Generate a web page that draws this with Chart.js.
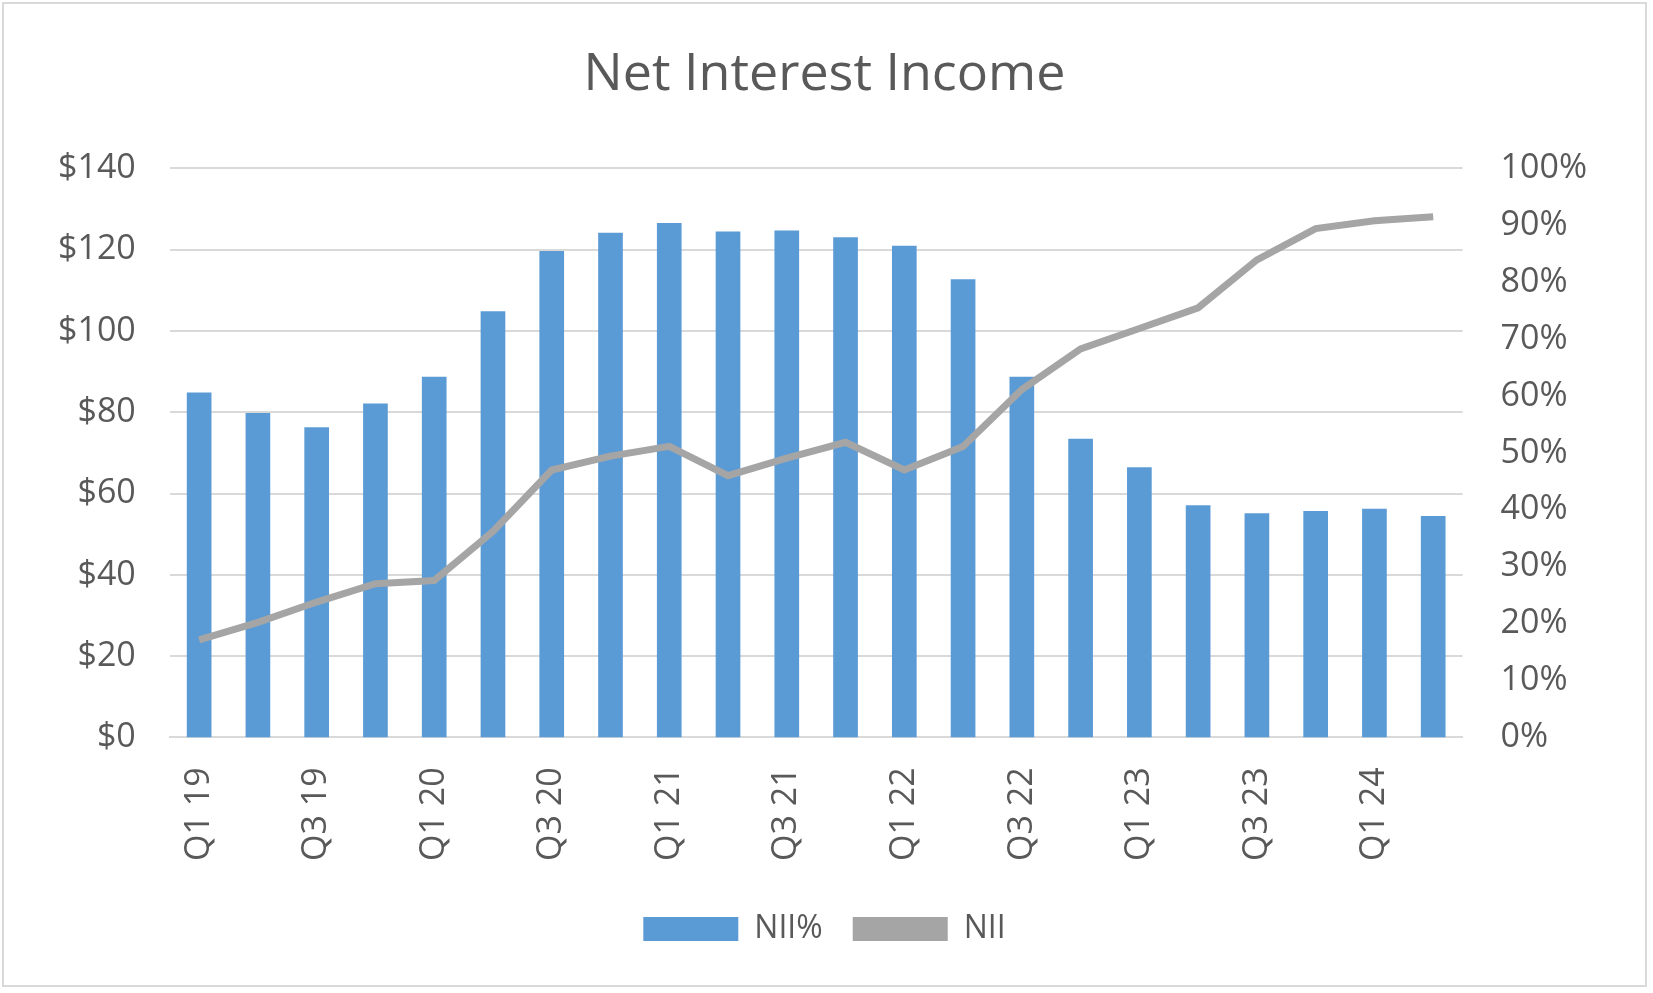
<!DOCTYPE html>
<html><head><meta charset="utf-8">
<script src="https://cdn.jsdelivr.net/npm/chart.js@4"></script>
<style>
html,body{margin:0;padding:0;background:#fff;}
#wrap{position:absolute;left:2px;top:2px;width:1645px;height:985px;border:2px solid #d9d9d9;box-sizing:border-box;}
</style></head><body>
<div id="wrap"><canvas id="c"></canvas></div>
<script>
const categories = ["Q1 19","Q2 19","Q3 19","Q4 19","Q1 20","Q2 20","Q3 20","Q4 20","Q1 21","Q2 21","Q3 21","Q4 21","Q1 22","Q2 22","Q3 22","Q4 22","Q1 23","Q2 23","Q3 23","Q4 23","Q1 24","Q2 24"];
const niiPct = [60.6,57.0,54.5,58.7,63.4,74.9,85.5,88.7,90.4,88.9,89.1,87.9,86.4,80.5,63.4,52.5,47.5,40.8,39.4,39.8,40.2,38.9];
const nii = [24.0,28.3,33.3,37.8,38.6,50.7,65.8,69.2,71.6,64.4,68.7,72.6,65.8,71.6,85.6,95.6,100.6,105.7,117.5,125.2,127.1,128.1];
const leftTicks = [0,20,40,60,80,100,120,140];
const rightTicks = [0,10,20,30,40,50,60,70,80,90,100];
const font = "Open Sans";
new Chart(document.getElementById('c'), {
  data: {
    labels: categories,
    datasets: [
      {type:'line', label:'NII', data:nii, yAxisID:'y', borderColor:'#a5a5a5', backgroundColor:'#a5a5a5', borderWidth:7, pointRadius:0, tension:0, order:0},
      {type:'bar', label:'NII%', data:niiPct, yAxisID:'y1', backgroundColor:'#5b9bd5', barPercentage:0.42, categoryPercentage:1, order:1}
    ]
  },
  options: {
    responsive:true, maintainAspectRatio:false, animation:false,
    layout:{padding:{left:20,right:20,top:10,bottom:30}},
    plugins:{
      title:{display:true, text:'Net Interest Income', color:'#595959', font:{family:font,size:52,weight:'normal'}, padding:{top:30,bottom:62}},
      legend:{position:'bottom', labels:{color:'#595959', font:{family:font,size:32}, boxWidth:95, boxHeight:24, padding:30,
        generateLabels(chart){
          return chart.data.datasets.map((d,i)=>({text:d.label, fillStyle:d.backgroundColor, strokeStyle:d.backgroundColor, lineWidth:0, datasetIndex:i, fontColor:'#595959'})).reverse();
        }}},
      tooltip:{enabled:false}
    },
    scales:{
      x:{grid:{display:false}, border:{color:'#d9d9d9', width:2},
        ticks:{autoSkip:false, minRotation:90, maxRotation:90, color:'#595959', font:{family:font,size:34}, padding:22,
          callback:(v,i)=> i%2===0 ? categories[i] : ''}},
      y:{position:'left', min:0, max:140, afterBuildTicks:a=>{a.ticks=leftTicks.map(v=>({value:v}));},
        grid:{color:'#d9d9d9', lineWidth:2, drawTicks:false}, border:{display:false},
        ticks:{color:'#595959', font:{family:font,size:34}, padding:34, callback:v=>'$'+v}},
      y1:{position:'right', min:0, max:100, afterBuildTicks:a=>{a.ticks=rightTicks.map(v=>({value:v}));},
        grid:{display:false, drawTicks:false}, border:{display:false},
        ticks:{color:'#595959', font:{family:font,size:34}, padding:38, callback:v=>v+'%'}}
    }
  }
});
</script></body></html>
